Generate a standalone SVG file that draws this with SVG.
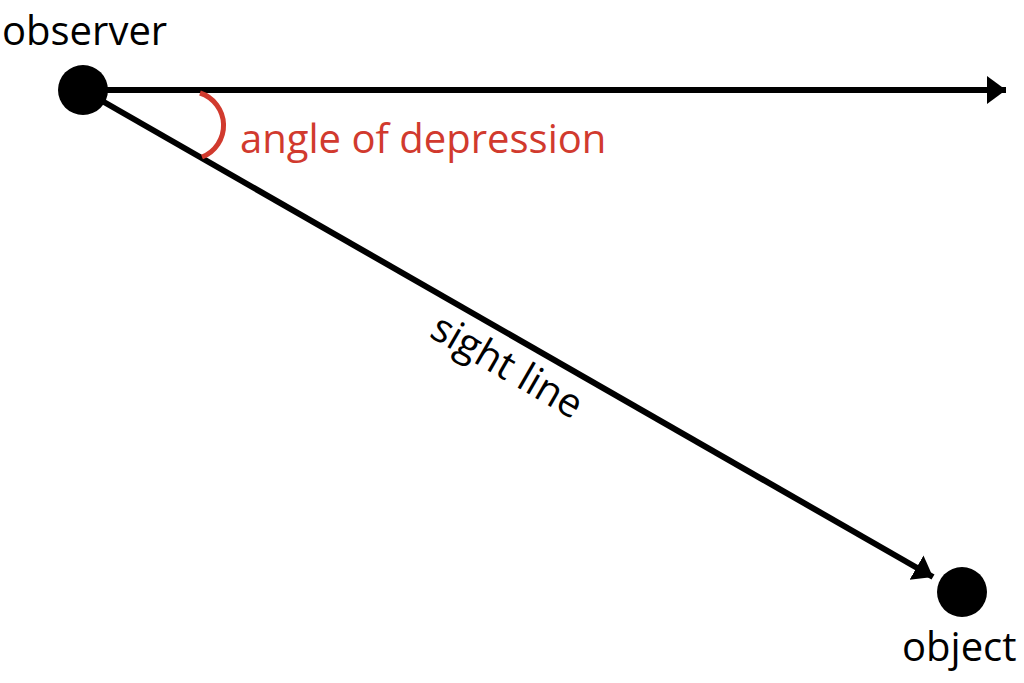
<svg xmlns="http://www.w3.org/2000/svg" width="1024" height="683" viewBox="0 0 1024 683">
<style>
.lbl{font-family:"Open Sans","Liberation Sans",sans-serif;font-size:40px;fill:#000}
.red{fill:#d13a2e}
.ln{stroke:#000;stroke-width:6;fill:none}
</style>
<defs>
<marker id="ah" markerUnits="userSpaceOnUse" markerWidth="22" markerHeight="32" refX="19" refY="16" orient="auto" viewBox="0 0 22 32">
<path d="M0 2 L19 16 L0 30 Z" fill="#000"/>
</marker>
</defs>
<rect width="1024" height="683" fill="#fff"/>
<g id="connectors">
<line class="ln" x1="83" y1="90" x2="1006" y2="90" marker-end="url(#ah)"/>
<line class="ln" x1="83" y1="90" x2="933" y2="577" marker-end="url(#ah)"/>
<path d="M200 93 A34 34 0 0 1 202 157" stroke="#d13a2e" stroke-width="5" fill="none"/>
</g>
<g id="observer">
<circle cx="83" cy="90" r="25" fill="#000"/>
<text class="lbl" x="2" y="45">observer</text>
</g>
<g id="object">
<circle cx="962" cy="592" r="25" fill="#000"/>
<text class="lbl" x="902" y="661">object</text>
</g>
<g id="angle">
<text class="lbl red" x="240" y="153">angle of depression</text>
</g>
<g id="sightline">
<text class="lbl" transform="translate(428,336) rotate(30)">sight line</text>
</g>
</svg>
